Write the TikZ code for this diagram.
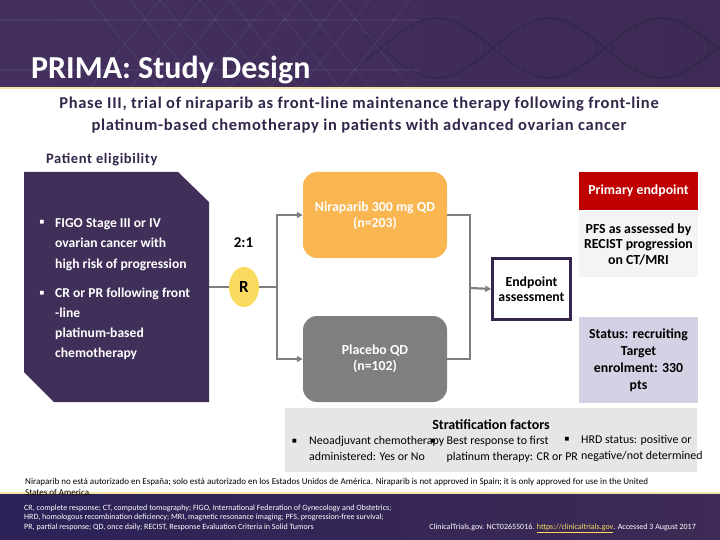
\documentclass[tikz,border=0pt]{standalone}
\usepackage{fontspec}
\setmainfont{Carlito}
\newfontfamily\symf{DejaVu Sans}
\usetikzlibrary{arrows.meta,shapes.geometric}
\definecolor{hdr}{HTML}{3D2A55}
\definecolor{hdrl}{HTML}{43305F}
\definecolor{ink}{HTML}{33264A}
\definecolor{boxp}{HTML}{402F59}
\definecolor{conn}{HTML}{7F7F7F}
\definecolor{orng}{HTML}{F9B651}
\definecolor{yell}{HTML}{FADB60}
\definecolor{redb}{HTML}{C00000}
\definecolor{lilac}{HTML}{D6D0E5}
\definecolor{lgry}{HTML}{F4F4F4}
\definecolor{strat}{HTML}{E6E6E6}
\definecolor{gold}{HTML}{F3E3A8}
\definecolor{foot}{HTML}{2C2258}
\tikzset{
  x=1pt,y=-1pt,
  conline/.style={draw=conn,line width=2.2pt},
  conarrow/.style={conline,-{Triangle[length=6pt,width=6pt]}},
  arm/.style={rounded corners=14pt,minimum width=144pt,minimum height=86pt,inner sep=2pt,align=center,font=\fontsize{13.8}{16}\selectfont\bfseries},
  sidebox/.style={minimum width=119pt,inner sep=2pt,align=center,text=black,font=\fontsize{13.8}{15.5}\selectfont\bfseries},
  small/.style={font=\fontsize{11.9}{15.7}\selectfont,text=black,inner sep=0pt,anchor=north west,align=left},
  bullet/.style={font=\fontsize{5}{5}\selectfont\symf,inner sep=0pt,anchor=center},
  foottext/.style={font=\fontsize{8.05}{9.6}\selectfont,text=white,inner sep=0pt,anchor=north west,align=left},
  helix/.style={draw=white,opacity=.05,line width=1.2pt},
}
\begin{document}
\begin{tikzpicture}
\useasboundingbox (0,0) rectangle (720,540);
% header
\fill[left color=hdrl,right color=hdr] (0,0) rectangle (720,88);
\begin{scope}
\clip (0,0) rectangle (720,88);
\foreach \p in {0,180}{
  \draw[line width=2pt,draw=black,opacity=.10,domain=365:720,samples=120,smooth,variable=\t] plot (\t,{48+30*sin((\t-493)*1.607+\p)});
}
\foreach \t in {372,380,...,712}{
  \draw[draw=black,opacity=.06,line width=1pt] (\t,{48-30*abs(sin((\t-493)*1.607))}) -- (\t,{48+30*abs(sin((\t-493)*1.607))});
}
\foreach \a/\c in {90/160,160/230,230/300,300/370,130/200,200/270,270/340,340/410}{
  \draw[helix] (\a,0) -- (\c,88);
  \draw[helix] (\c,0) -- (\a,88);
}
\draw[helix] (0,20) -- (420,20);
\draw[helix] (0,70) -- (420,70);
\end{scope}
\fill[gold] (0,87.5) rectangle (720,89.5);
\node[anchor=base west,inner sep=0pt,text=white,font=\fontsize{32}{33}\selectfont\bfseries] (title) at (31,79) {PRIMA: Study Design};
% footer
\fill[left color=foot,right color=hdr] (0,493) rectangle (720,540);
\fill[gold] (0,491.5) rectangle (720,493.5);
% headings
\node[anchor=center,inner sep=0pt,align=center,text=ink,font=\fontsize{16.5}{22.5}\selectfont\bfseries\addfontfeature{LetterSpace=4.2}] (sub) at (359,115) {Phase III, trial of niraparib as front-line maintenance therapy following front-line\\platinum-based chemotherapy in patients with advanced ovarian cancer};
\node[anchor=base west,inner sep=0pt,text=ink,font=\fontsize{14.5}{16}\selectfont\bfseries\addfontfeature{LetterSpace=4.2}] (pe) at (46,163.5) {Patient eligibility};
% left panel
\path[fill=boxp] (24,172) -- (178,172) -- (209,202) -- (209,402) -- (54,402) -- (24,372) -- cycle;
\coordinate (eligE) at (209,287);
\node[bullet,text=white] (e0) at (42,222.5) {■};
\node[anchor=north west,inner sep=0pt,align=left,text=white,font=\fontsize{13.6}{20.7}\selectfont\bfseries] (e1) at (55,218) {FIGO Stage III or IV\\ovarian cancer with\\high risk of progression};
\node[bullet,text=white] (e2) at (42,293.5) {■};
\node[anchor=north west,inner sep=0pt,align=left,text=white,font=\fontsize{13.6}{20}\selectfont\bfseries] (e3) at (55,288) {CR or PR following front\\-line\\platinum-based\\chemotherapy};
% randomisation
\node[fill=yell,ellipse,minimum width=30pt,minimum height=40pt,inner sep=0pt,font=\fontsize{17}{19}\selectfont\bfseries] (R) at (244,287) {R};
\node[inner sep=0pt,font=\fontsize{15}{17}\selectfont\bfseries] (ratio) at (243.5,243) {2:1};
% arms
\node[arm,fill=orng,text=white] (nir) at (375,215) {};
\node[inner sep=0pt,align=center,text=white,font=\fontsize{13.8}{16}\selectfont\bfseries] (nirT) at (375,215.5) {Niraparib 300 mg QD\\(n=203)};
\node[arm,fill=conn,text=white] (pla) at (375,359) {Placebo QD\\(n=102)};
% endpoint
\node[draw=ink,line width=2.5pt,fill=white,minimum width=78pt,minimum height=61pt,inner sep=0pt,align=center,text=black,font=\fontsize{13.8}{15.5}\selectfont\bfseries] (end) at (531.5,289) {Endpoint\\assessment};
\node[sidebox,fill=redb,text=white,minimum height=38pt] (prim) at (638.5,191) {Primary endpoint};
\node[sidebox,fill=lgry,minimum height=66pt] (pfs) at (638.5,244) {PFS as assessed by\\RECIST progression\\on CT/MRI};
\node[sidebox,fill=lilac,minimum height=86pt,font=\fontsize{13.8}{17}\selectfont\bfseries] (stat) at (638.5,360) {Status: recruiting\\Target\\enrolment: 330\\pts};
% connectors
\coordinate (jl) at (277,287);
\coordinate (jr) at (470,288);
\draw[conline] (eligE) -- (R);
\draw[conline] (R) -- (jl);
\draw[conarrow] (jl) |- (nir.west);
\draw[conarrow] (jl) |- (pla.west);
\draw[conline] (nir.east) -| (jr);
\draw[conline] (pla.east) -| (jr);
\draw[conarrow] (jr) -- (end.west);
% stratification
\node[fill=strat,minimum width=412pt,minimum height=64pt,inner sep=0pt] (sbox) at (491,440) {};
\node[inner sep=0pt,text=black,font=\fontsize{14}{15}\selectfont\bfseries] (st) at (491,425) {Stratification factors};
\node[small] (s1) at (309,436) {Neoadjuvant chemotherapy\\administered: Yes or No};
\node[small] (s2) at (446.5,436) {Best response to first\\platinum therapy: CR or PR};
\node[small] (s3) at (581,435) {HRD status: positive or\\negative/not determined};
\node[bullet] (b1) at (294.5,441) {■};
\node[bullet] (b2) at (433,441) {■};
\node[bullet] (b3) at (567,439) {■};
% notes
\node[inner sep=0pt,anchor=north west,align=left,text=black,font=\fontsize{9}{11}\selectfont] (note) at (25,478.5) {Niraparib no está autorizado en España; solo está autorizado en los Estados Unidos de América. Niraparib is not approved in Spain; it is only approved for use in the United\\States of America.};
\node[foottext] (abbr) at (24,504.5) {CR, complete response; CT, computed tomography; FIGO, International Federation of Gynecology and Obstetrics;\\HRD, homologous recombination deficiency; MRI, magnetic resonance imaging; PFS, progression-free survival;\\PR, partial response; QD, once daily; RECIST, Response Evaluation Criteria in Solid Tumors};
\node[foottext,anchor=north east,font=\fontsize{8}{9.6}\selectfont] (ref) at (696,524) {ClinicalTrials.gov. NCT02655016. \textcolor{yell}{\underline{https://clinicaltrials.gov}}. Accessed 3 August 2017};
\end{tikzpicture}
\end{document}
